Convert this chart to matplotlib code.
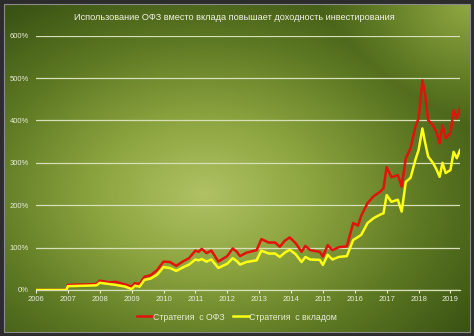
import numpy as np
import matplotlib
matplotlib.use("Agg")
import matplotlib.pyplot as plt
from matplotlib.colors import LinearSegmentedColormap
from matplotlib.patches import Rectangle

plt.rcParams['font.family'] = ['Liberation Sans', 'DejaVu Sans']

title = "Использование ОФЗ вместо вклада повышает доходность инвестирования"
label_ofz = "Стратегия  с ОФЗ"
label_dep = "Стратегия  с вкладом"

# time axis (fractional years)
years = [2006.0, 2006.95, 2007.0, 2007.5, 2007.9, 2008.0, 2008.3, 2008.5, 2008.8,
         2009.0, 2009.1, 2009.25, 2009.4, 2009.6, 2009.8, 2010.0, 2010.2, 2010.4,
         2010.6, 2010.8, 2011.0, 2011.1, 2011.2, 2011.35, 2011.5, 2011.72, 2012.0,
         2012.17, 2012.3, 2012.4, 2012.6, 2012.92, 2013.07, 2013.3, 2013.5, 2013.65,
         2013.8, 2013.96, 2014.15, 2014.33, 2014.45, 2014.6, 2014.9, 2015.0, 2015.15,
         2015.3, 2015.5, 2015.75, 2015.95, 2016.1, 2016.2, 2016.4, 2016.6, 2016.8,
         2016.9, 2017.0, 2017.15, 2017.35, 2017.47, 2017.6, 2017.75, 2017.9, 2018.0,
         2018.12, 2018.2, 2018.3, 2018.45, 2018.56, 2018.66, 2018.75, 2018.85,
         2019.0, 2019.1, 2019.2, 2019.3]

# returns, %
ofz = [0, 0, 12, 13, 14, 22, 18, 19, 13,
       8, 16, 14, 31, 35, 47, 67, 66, 57,
       67, 75, 93, 90, 97, 87, 93, 67, 80,
       98, 90, 80, 88, 94, 120, 112, 112, 102,
       116, 124, 110, 90, 104, 94, 90, 79, 106,
       94, 101, 103, 158, 152, 175, 205, 222, 232,
       240, 290, 266, 271, 244, 311, 335, 385, 405,
       495, 464, 401, 389, 373, 346, 389, 358,
       370, 424, 405, 429]

deposit = [0, 0, 9, 10, 11, 17, 14, 12, 8,
           2, 10, 8, 24, 27, 36, 54, 52, 45,
           53, 60, 72, 70, 73, 67, 72, 52, 62,
           75, 68, 60, 66, 70, 93, 86, 86, 78,
           88, 95, 84, 66, 78, 72, 71, 59, 83,
           72, 78, 80, 118, 125, 130, 158, 170, 178,
           181, 224, 208, 213, 185, 255, 265, 307, 330,
           381, 350, 315, 300, 285, 267, 300, 276,
           283, 326, 311, 330]

year_ticks = list(range(2006, 2020))
pct_ticks = [0, 100, 200, 300, 400, 500, 600]

W, H = 474, 336
fig = plt.figure(figsize=(W / 100, H / 100), dpi=100)
fig.patch.set_facecolor('#2c2c2c')

# green background: light blob left of centre, lighter top-right, dark corners
bg = fig.add_axes([4 / W, 4 / H, 466 / W, 328 / H])
gx, gy = np.meshgrid(np.linspace(0, 466, 300), np.linspace(0, 328, 220))
d1 = np.sqrt(((gx - 200) / 330) ** 2 + ((gy - 190) / 230) ** 2)
d2 = np.sqrt(((gx - 466) / 260) ** 2 + ((gy - 0) / 220) ** 2) + 0.3
d = np.clip(np.minimum(d1, d2), 0, 1)
cmap = LinearSegmentedColormap.from_list('g', ['#b0c264', '#8ca43f', '#5e7923', '#3a5213'])
bg.imshow(d, cmap=cmap, aspect='auto', extent=[0, 1, 0, 1], origin='upper', vmin=0, vmax=1)
bg.set_axis_off()
fig.add_artist(Rectangle((4 / W, 4 / H), 466 / W, 328 / H, transform=fig.transFigure,
                         fill=False, edgecolor='#8c8c8c', linewidth=0.8))

ax = fig.add_axes([36 / W, 46 / H, 424 / W, 254.3 / H])
ax.set_facecolor('none')
ax.plot(years, ofz, color='#e3120b', linewidth=1.8, label=label_ofz, zorder=3)
ax.plot(years, deposit, color='#ffff14', linewidth=1.8, label=label_dep, zorder=4)

ax.set_xlim(2006, 2019.3)
ax.set_ylim(0, 600)
ax.set_xticks(year_ticks)
ax.set_xticklabels([str(y) for y in year_ticks])
ax.set_yticks(pct_ticks)
ax.set_yticklabels([f"{p}%" for p in pct_ticks])
ax.grid(axis='y', color='#d6dfb8', linewidth=0.9)
for s in ['top', 'right', 'left']:
    ax.spines[s].set_visible(False)
ax.spines['bottom'].set_color('#d6dfb8')
ax.spines['bottom'].set_linewidth(0.9)
ax.tick_params(axis='x', colors='#e8ecd6', labelsize=5.5, length=2.5, width=0.8, pad=1.5)
ax.tick_params(axis='y', colors='#e8ecd6', labelsize=5.5, length=0, pad=5)

fig.text(0.495, 1 - 17 / H, title, ha='center', va='center', color='#f2f2e6', fontsize=6.6)

fig.legend(loc='center', bbox_to_anchor=(0.5, 1 - 317 / H), ncol=2, frameon=False,
           fontsize=6.3, labelcolor='#e8ecd6', handlelength=1.8, handletextpad=0.05,
           columnspacing=0.9)

fig.savefig('out.png', dpi=100, facecolor=fig.get_facecolor())
